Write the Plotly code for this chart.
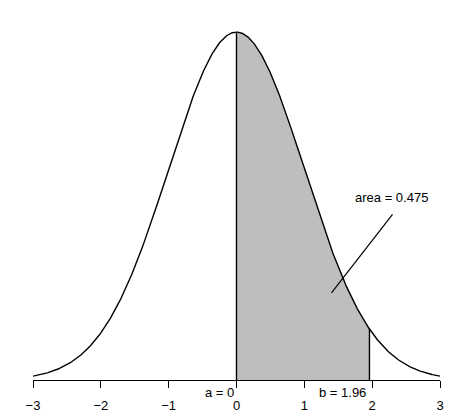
import numpy as np
import plotly.graph_objects as go

# Distribution and shaded interval
mu = 0.0
sigma = 1.0
a = 0.0
b = 1.96
area = 0.475
x_min, x_max = -3, 3
tick_vals = [-3, -2, -1, 0, 1, 2, 3]
label_a = "a = 0"
label_b = "b = 1.96"
label_area = "area = 0.475"
# annotation leader: text anchor point and pointer tip (data units)
area_text_xy = (2.29, 0.198)
leader_start = (2.30, 0.190)
leader_end = (1.40, 0.100)


def pdf(x):
    return np.exp(-0.5 * ((x - mu) / sigma) ** 2) / (sigma * np.sqrt(2 * np.pi))


xs = np.linspace(x_min, x_max, 601)
xs_fill = np.linspace(a, b, 300)

FONT = "Liberation Sans, Arial, Helvetica, sans-serif"
FS = 13

fig = go.Figure()
fig.add_trace(go.Scatter(
    x=np.concatenate([[a], xs_fill, [b]]),
    y=np.concatenate([[0], pdf(xs_fill), [0]]),
    fill="toself", fillcolor="#bebebe", line=dict(width=0),
    mode="lines", hoverinfo="skip", showlegend=False))
fig.add_trace(go.Scatter(x=xs, y=pdf(xs), mode="lines",
                         line=dict(color="black", width=1.4), showlegend=False))
for v in (a, b):
    fig.add_trace(go.Scatter(x=[v, v], y=[0, pdf(v)], mode="lines",
                             line=dict(color="black", width=1.4), showlegend=False))
fig.add_trace(go.Scatter(x=[leader_start[0], leader_end[0]],
                         y=[leader_start[1], leader_end[1]], mode="lines",
                         line=dict(color="black", width=1.2), showlegend=False))

fig.add_annotation(x=area_text_xy[0], y=area_text_xy[1], text=label_area,
                   showarrow=False, xanchor="center", yanchor="bottom",
                   font=dict(family=FONT, size=FS, color="black"))
fig.add_annotation(x=a, y=0, text=label_a, showarrow=False, xanchor="right",
                   yanchor="top", xshift=-1, yshift=-3,
                   font=dict(family=FONT, size=FS, color="black"))
fig.add_annotation(x=b, y=0, text=label_b, showarrow=False, xanchor="right",
                   yanchor="top", xshift=-1, yshift=-3,
                   font=dict(family=FONT, size=FS, color="black"))

fig.update_layout(
    width=474, height=414,
    margin=dict(l=33, r=34, t=20, b=34, autoexpand=False),
    paper_bgcolor="white", plot_bgcolor="white",
    xaxis=dict(range=[x_min, x_max], tickvals=tick_vals, ticks="outside",
               ticklen=7, tickwidth=1.2, tickcolor="black", showline=True,
               linecolor="black", linewidth=1.2, showgrid=False, zeroline=False,
               automargin=False,
               tickfont=dict(family=FONT, size=FS, color="black"),
               ticklabelstandoff=6),
    yaxis=dict(range=[0, 0.4128], visible=False, showgrid=False, zeroline=False,
               automargin=False),
)

fig.write_html("out.html")
